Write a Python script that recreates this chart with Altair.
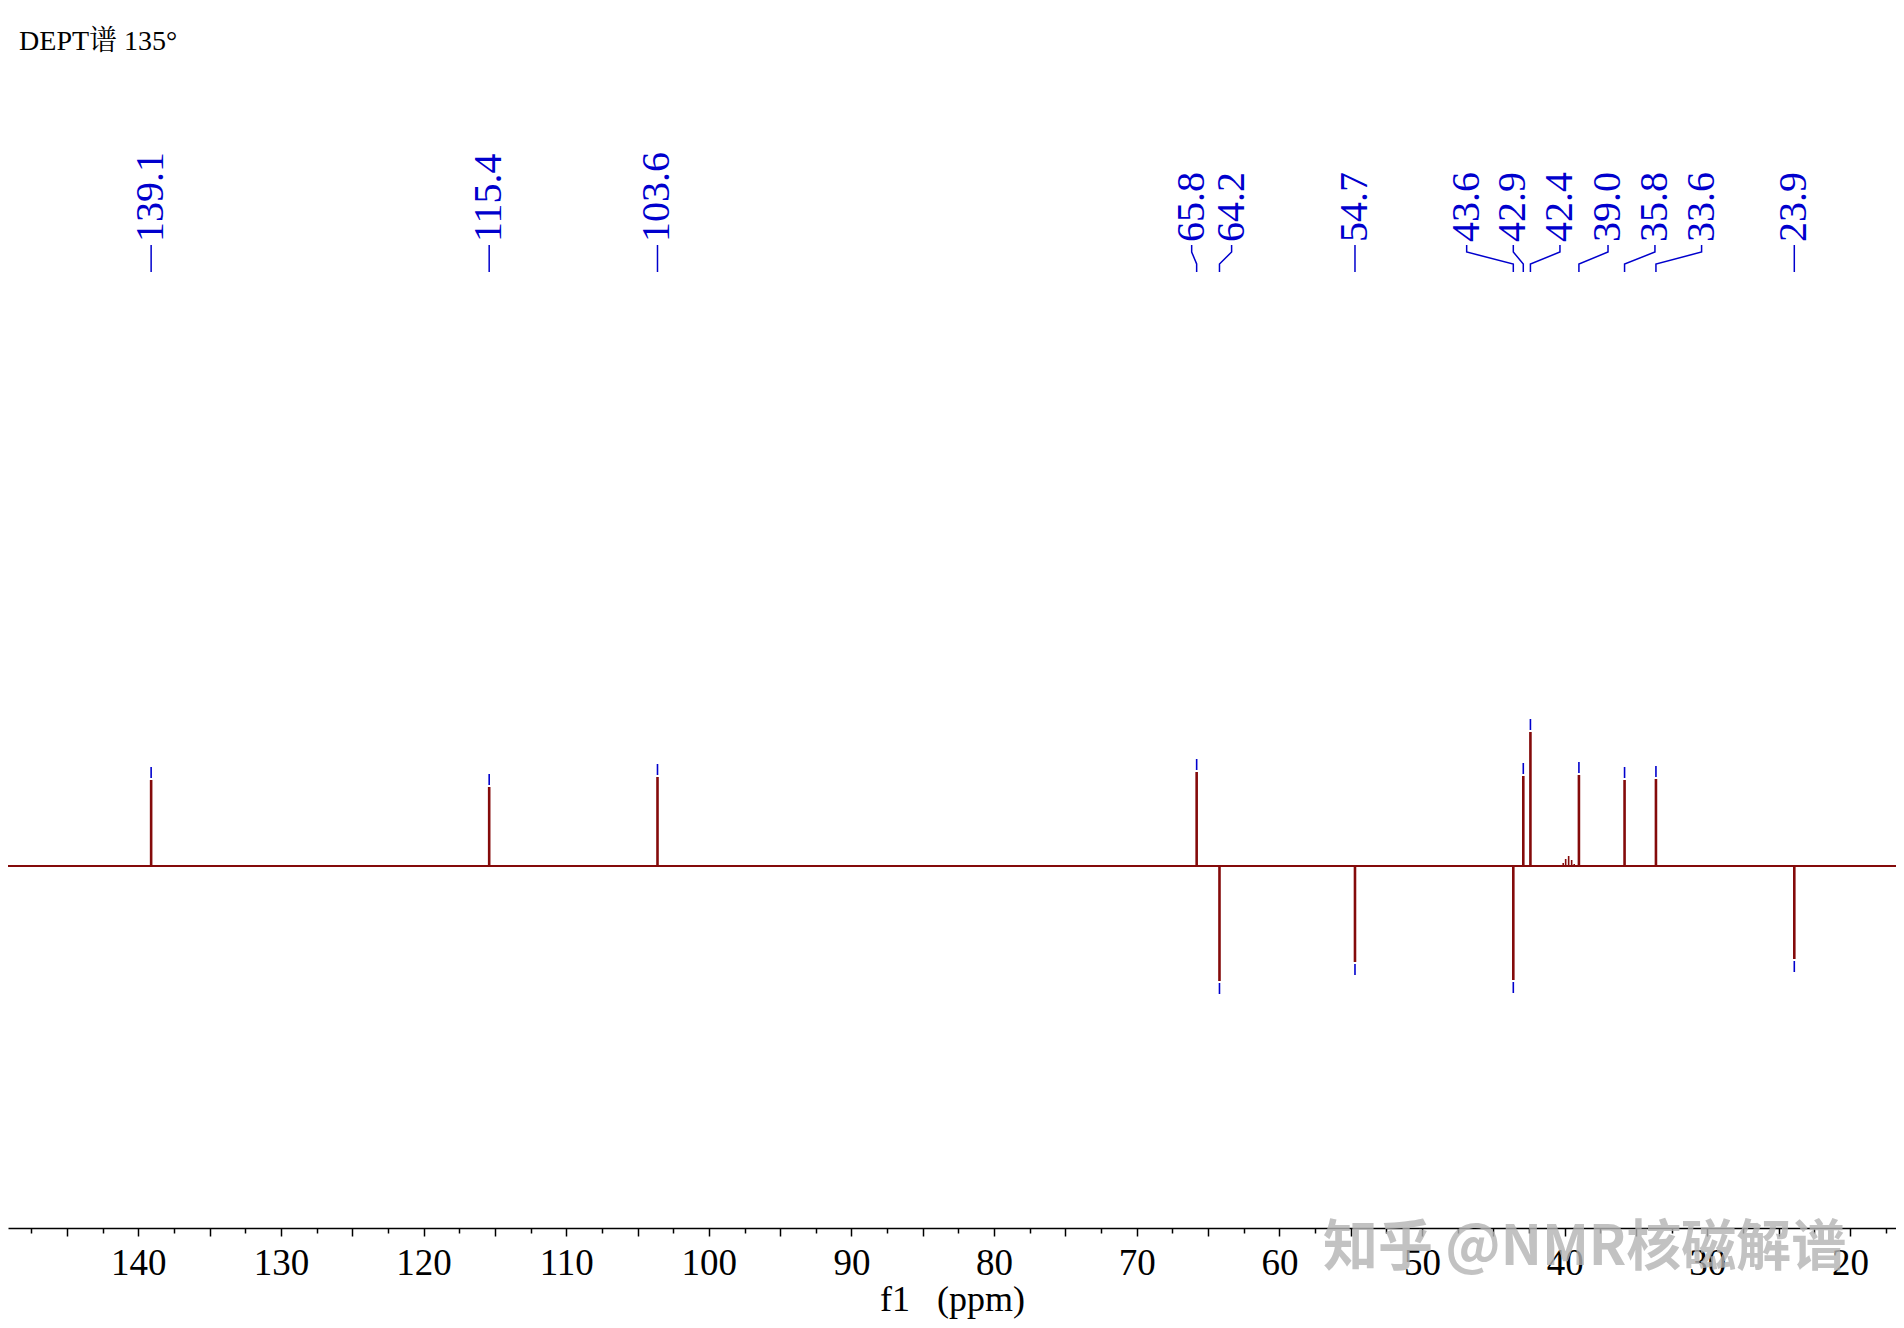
import altair as alt
import pandas as pd

# ---------------- data ----------------
peak_ppm = [139.1, 115.4, 103.6, 65.8, 64.2, 54.7, 43.6, 42.9, 42.4, 39.0, 35.8, 33.6, 23.9]
peak_int = [86, 79, 89, 94, -115, -96, -114, 90, 134, 91, 86, 87, -93]
label_text = ["139.1", "115.4", "103.6", "65.8", "64.2", "54.7", "43.6",
              "42.9", "42.4", "39.0", "35.8", "33.6", "23.9"]
# where the (spread-out) labels sit along the ppm axis
label_ppm = [139.1, 115.4, 103.6, 66.15, 63.35, 54.7, 46.87, 43.60, 40.33, 36.96, 33.67, 30.40, 23.9]

# small solvent multiplet (DMSO-d6)
solvent_ppm = [40.10, 39.93, 39.72, 39.51, 39.33]
solvent_int = [3, 7, 10, 6, 2]

x_domain = [149.135, 16.77]
y_domain = [-362, 858]
tick_values = [147.5 - 2.5 * i for i in range(53)]

title_text = "DEPT谱 135°"
title_pos = [148.36, 816]
watermark_text = "知乎 @NMR核磁解谱"
watermark_pos = [38.6, -382]

# label / connector levels (intensity units)
label_level = 624
conn_levels = [621, 614, 602, 594]

RED = "#840a0a"
BLUE = "#0000cd"
SERIF = "Liberation Serif, Noto Serif CJK SC, Noto Sans CJK SC, serif"

# ---------------- tables ----------------
peaks = pd.DataFrame({"ppm": peak_ppm, "h": peak_int, "zero": [0] * len(peak_ppm)})
solv = pd.DataFrame({"ppm": solvent_ppm, "h": solvent_int, "zero": [0] * len(solvent_ppm)})
base = pd.DataFrame({"ppm": [x_domain[0]], "x2": [x_domain[1]], "y": [0]})

marks = pd.DataFrame({
    "ppm": peak_ppm,
    "y1": [h + (2 if h > 0 else -2) for h in peak_int],
    "y2": [h + (13 if h > 0 else -13) for h in peak_int],
})

labels = pd.DataFrame({"ppm": label_ppm, "text": label_text, "y": [label_level] * len(label_ppm)})

conn_rows = []
for i, (lp, pp) in enumerate(zip(label_ppm, peak_ppm)):
    pts = [lp, lp, pp, pp]
    for k, (xx, yy) in enumerate(zip(pts, conn_levels)):
        conn_rows.append({"id": i, "order": k, "ppm": xx, "y": yy})
conn = pd.DataFrame(conn_rows)

titles = pd.DataFrame({"ppm": [title_pos[0]], "y": [title_pos[1]], "text": [title_text]})
wm = pd.DataFrame({"ppm": [watermark_pos[0]], "y": [watermark_pos[1]], "text": [watermark_text]})

xscale = alt.Scale(domain=x_domain, nice=False, zero=False)
yscale = alt.Scale(domain=y_domain, nice=False, zero=False)

x_axis = alt.Axis(
    values=tick_values,
    format="d",
    labelExpr="datum.value % 10 === 0 ? datum.label : ''",
    tickSize={"condition": {"test": "datum.value % 5 === 0", "value": 8}, "value": 5},
    tickColor="black",
    tickWidth=1.5,
    domainColor="black",
    domainWidth=1.5,
    labelFont=SERIF,
    labelFontSize=37,
    labelColor="black",
    labelPadding=9,
    labelFlush=False,
    labelOverlap=False,
    grid=False,
    title="f1\u00a0\u00a0\u00a0(ppm)",
    titleFont=SERIF,
    titleFontSize=36,
    titleFontWeight="normal",
    titleColor="black",
    titleY=54,
    titleBaseline="top",
)


def X(field):
    return alt.X(field, type="quantitative", scale=xscale, axis=x_axis)


def Y(field):
    return alt.Y(field, type="quantitative", scale=yscale, axis=None)


baseline = alt.Chart(base).mark_rule(color=RED, strokeWidth=2).encode(
    x=X("ppm"),
    x2="x2",
    y=Y("y"),
)

peak_rules = alt.Chart(peaks).mark_rule(color=RED, strokeWidth=2.6).encode(
    x=X("ppm"), y=Y("zero"), y2="h"
)

solv_rules = alt.Chart(solv).mark_rule(color=RED, strokeWidth=1.6).encode(
    x=X("ppm"), y=Y("zero"), y2="h"
)

markers = alt.Chart(marks).mark_rule(color=BLUE, strokeWidth=1.6).encode(
    x=X("ppm"), y=Y("y1"), y2="y2"
)

connectors = alt.Chart(conn).mark_line(color=BLUE, strokeWidth=1.5).encode(
    x=X("ppm"), y=Y("y"), detail="id:N", order="order:Q"
)

label_marks = alt.Chart(labels).mark_text(
    angle=270, align="left", baseline="middle", color=BLUE,
    font=SERIF, fontSize=40
).encode(x=X("ppm"), y=Y("y"), text="text:N")

title_mark = alt.Chart(titles).mark_text(
    align="left", baseline="alphabetic", color="black", font=SERIF, fontSize=28
).encode(x=X("ppm"), y=Y("y"), text="text:N")

wm_mark = alt.Chart(wm).mark_text(
    align="center", baseline="middle", color="#b4b4b4", opacity=0.8,
    font="Noto Sans CJK SC", fontWeight="bold", fontSize=55
).encode(x=X("ppm"), y=Y("y"), text="text:N")

chart = alt.layer(
    baseline, peak_rules, solv_rules, markers, connectors, label_marks, title_mark, wm_mark
).properties(
    width=1888,
    height=1220,
    background="white",
    autosize=alt.AutoSizeParams(type="none"),
    padding={"left": 0, "right": 0, "top": 0, "bottom": 92},
).configure_view(stroke=None)

chart.save("out.html", embed_options={"renderer": "svg", "actions": False})
